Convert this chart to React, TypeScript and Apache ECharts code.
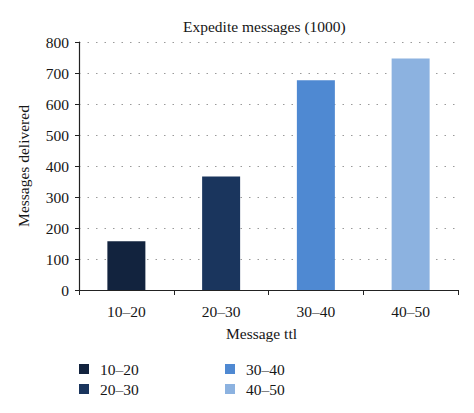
import { useEffect, useRef } from 'react'
import * as echarts from 'echarts'

const CATEGORIES = ['10–20', '20–30', '30–40', '40–50']
const VALUES = [157, 366, 677, 747]
const COLORS = ['#12233e', '#1a355d', '#4f89d2', '#8cb2e0']
const Y_TICKS = [0, 800, 100]

const FONT = '"Liberation Serif", "DejaVu Serif", serif'
const INK = '#161616'

export default function App() {
  const ref = useRef<HTMLDivElement>(null)

  useEffect(() => {
    if (!ref.current) return
    const chart = echarts.init(ref.current, null, { renderer: 'svg' })

    const legendBase = {
      orient: 'vertical',
      top: 361,
      padding: 0,
      icon: 'rect',
      itemWidth: 10,
      itemHeight: 10,
      itemGap: 4,
      textStyle: { fontFamily: FONT, fontSize: 15.5, color: INK, padding: [0, 0, 0, 6] },
    }

    chart.setOption({
      animation: false,
      backgroundColor: '#ffffff',
      textStyle: { fontFamily: FONT },
      title: {
        text: 'Expedite messages (1000)',
        left: 178,
        top: 13,
        textStyle: { fontFamily: FONT, fontSize: 15.5, fontWeight: 'normal', color: INK },
      },
      grid: { left: 79, right: 16, top: 42, bottom: 123 },
      legend: [
        { ...legendBase, data: CATEGORIES.slice(0, 2), left: 79 },
        { ...legendBase, data: CATEGORIES.slice(2), left: 225 },
      ],
      xAxis: {
        type: 'category',
        data: CATEGORIES,
        name: 'Message ttl',
        nameLocation: 'middle',
        nameGap: 35,
        nameTextStyle: { fontFamily: FONT, fontSize: 15.5, color: INK, padding: [0, 14, 0, 0] },
        axisLine: { lineStyle: { color: '#222', width: 1.2 } },
        axisTick: { show: true, length: 5, lineStyle: { color: '#222' } },
        axisLabel: { fontFamily: FONT, fontSize: 15.5, color: INK, margin: 13 },
      },
      yAxis: {
        type: 'value',
        min: Y_TICKS[0],
        max: Y_TICKS[1],
        interval: Y_TICKS[2],
        name: 'Messages delivered',
        nameLocation: 'middle',
        nameGap: 48,
        nameTextStyle: { fontFamily: FONT, fontSize: 15.5, color: INK },
        axisLine: { show: true, lineStyle: { color: '#222', width: 1.2 } },
        axisTick: { show: true, length: 4, lineStyle: { color: '#222' } },
        axisLabel: { fontFamily: FONT, fontSize: 15.5, color: INK, margin: 10 },
        splitLine: {
          show: true,
          showMinLine: false,
          lineStyle: { color: '#9a9a9a', type: [1.5, 7], width: 1 },
        },
      },
      series: CATEGORIES.map((name, i) => ({
        name,
        type: 'bar',
        stack: 'all',
        barWidth: 38,
        itemStyle: { color: COLORS[i] },
        data: VALUES.map((v, j) => (j === i ? v : '-')),
      })),
    })

    return () => {
      chart.dispose()
    }
  }, [])

  return (
    <div
      ref={ref}
      style={{ position: 'fixed', left: 0, top: 0, width: 474, height: 413 }}
    />
  )
}
